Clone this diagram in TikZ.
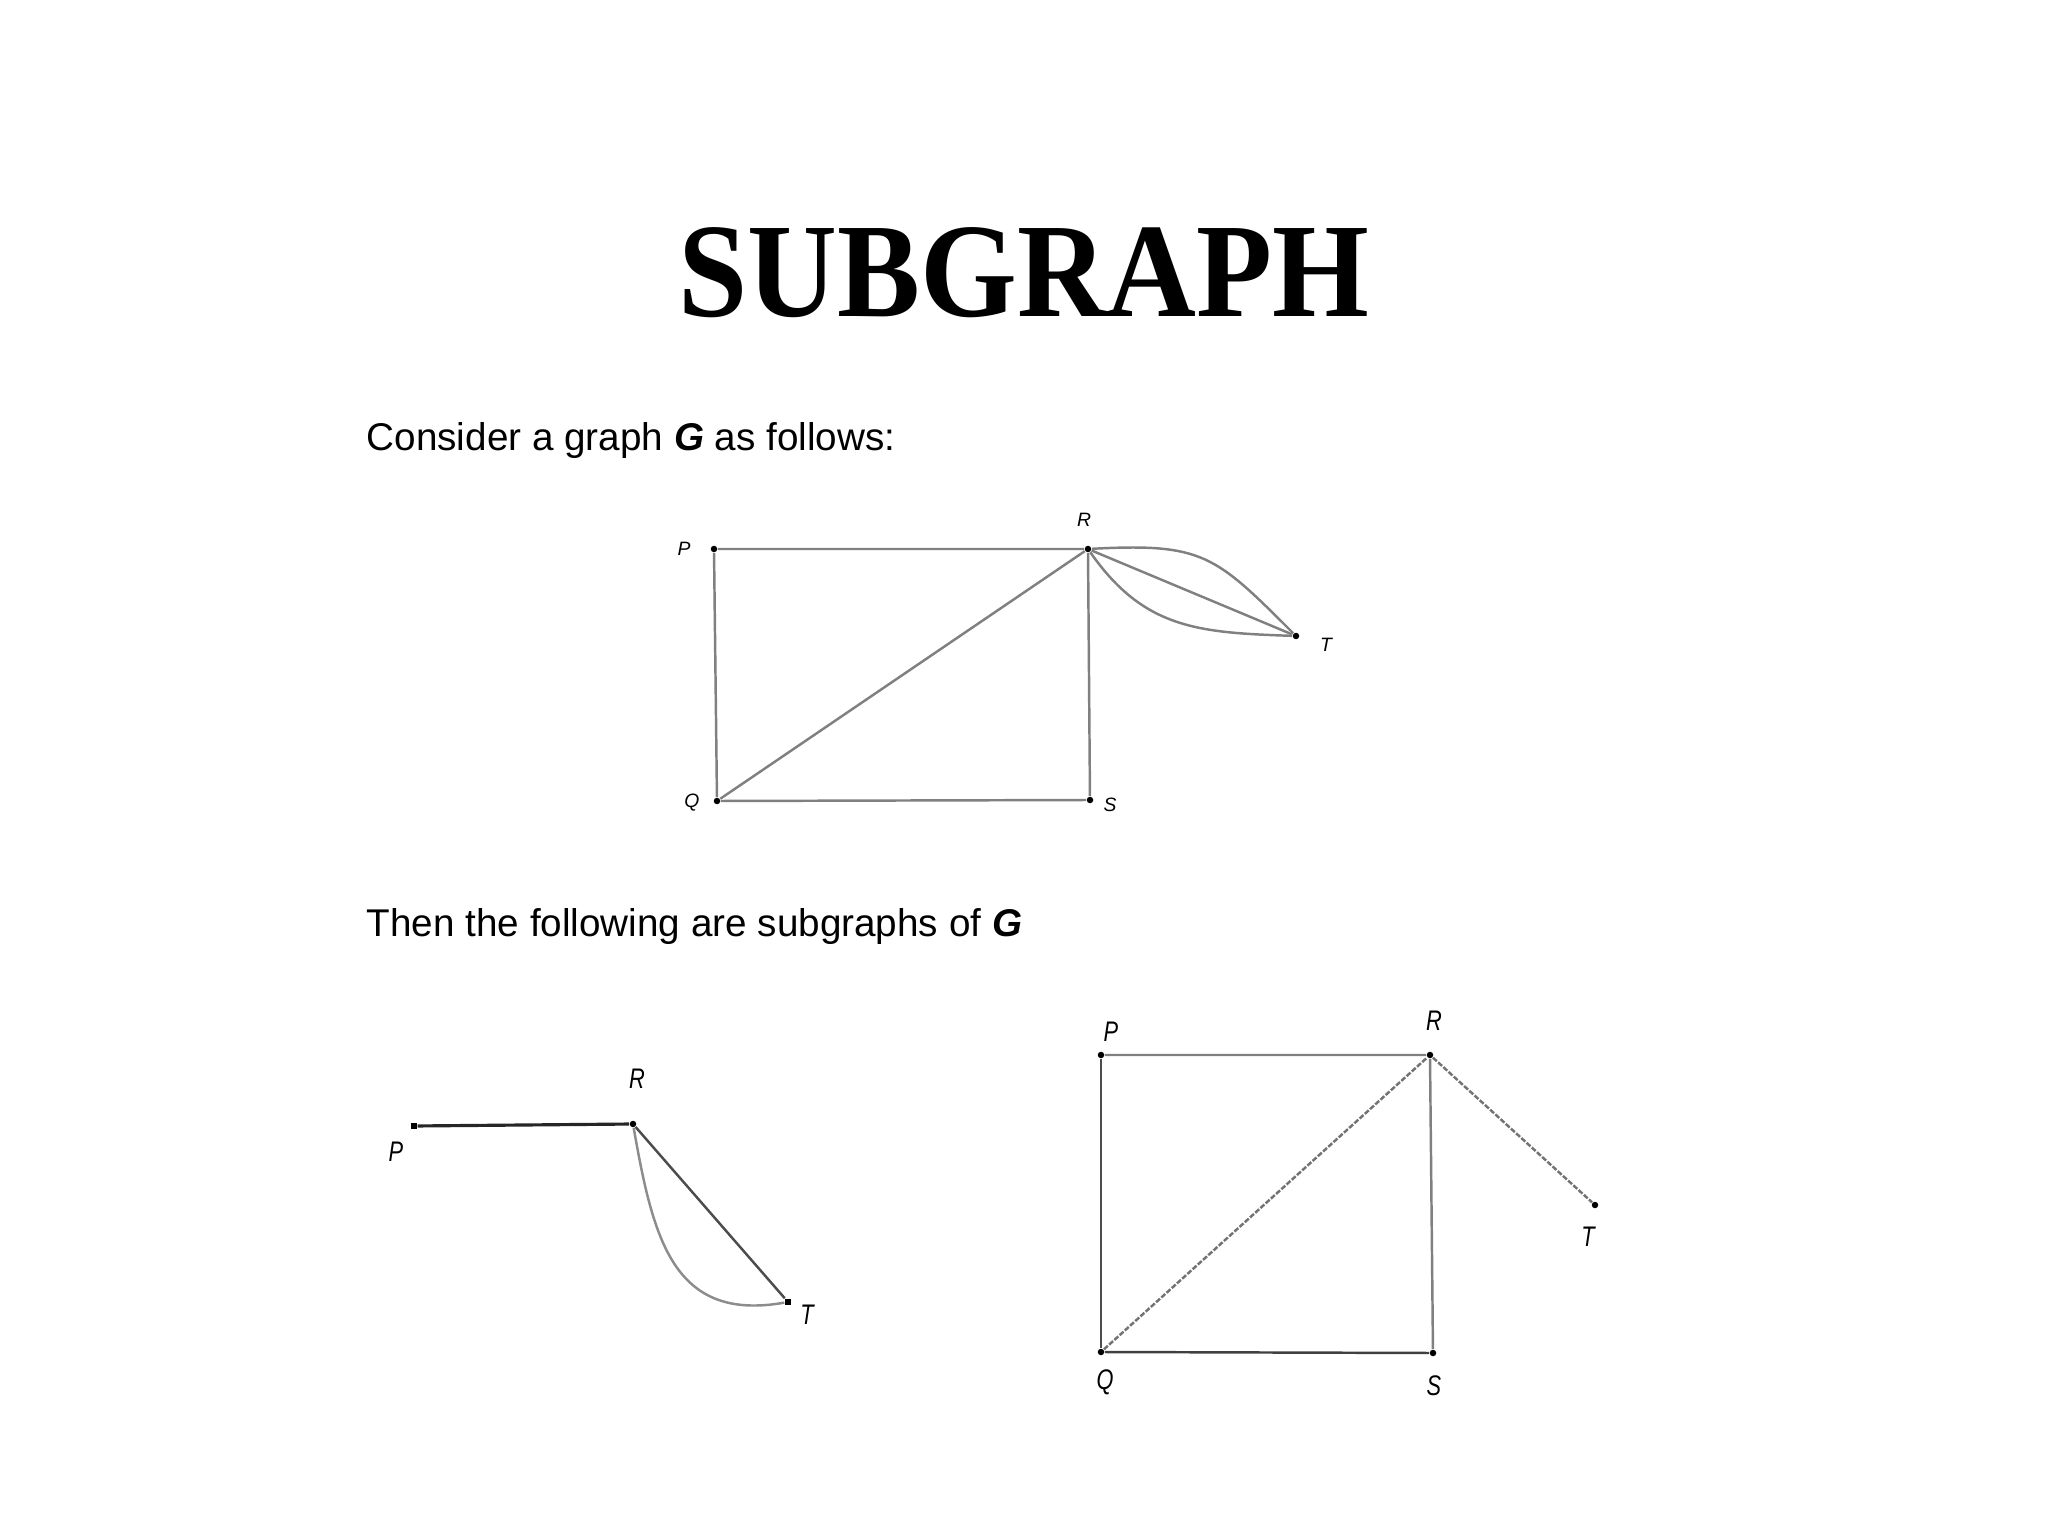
\documentclass[tikz,border=0pt]{standalone}
\usepackage{graphicx}
\usepackage{fontspec}
\setmainfont{Liberation Serif}
\setsansfont{Liberation Sans}

\newcommand{\tallA}[1]{\scalebox{1}[1.3]{#1}}

\begin{document}
\begin{tikzpicture}[
	vertex/.style  = {circle, fill=black, inner sep=0pt, minimum size=0.065cm},
	edge/.style    = {line width=0.7pt, draw=black!50},
	lbl/.style     = {font=\sffamily\itshape\fontsize{5.5}{6}\selectfont, inner sep=0pt},
	biglbl/.style  = {font=\sffamily\itshape\fontsize{6.2}{7}\selectfont, inner sep=0pt},
	caption/.style = {font=\sffamily\fontsize{11}{13}\selectfont, anchor=base west, inner sep=0pt},
	]

	\useasboundingbox (0,0) rectangle (20.48,-15.36);

	\node[font=\bfseries\fontsize{35.4}{40}\selectfont, anchor=base, inner sep=0pt] (title) at (10.24,-3.17) {\scalebox{1}[1.08]{SUBGRAPH}};
	\node[caption] (cap1) at (3.66,-4.51) {Consider a graph \textbf{\textit{G}} as follows:};
	\node[caption] (cap2) at (3.66,-9.36) {Then the following are subgraphs of \textbf{\textit{G}}};

	% graph G
	\node[vertex] (P) at (7.14,-5.49) {};
	\node[vertex] (R) at (10.88,-5.49) {};
	\node[vertex] (Q) at (7.17,-8.01) {};
	\node[vertex] (S) at (10.90,-8.00) {};
	\node[vertex] (T) at (12.96,-6.36) {};
	\node[lbl] (Plbl) at (6.84,-5.49) {P};
	\node[lbl] (Rlbl) at (10.84,-5.20) {R};
	\node[lbl] (Tlbl) at (13.26,-6.45) {T};
	\node[lbl] (Qlbl) at (6.92,-8.03) {Q};
	\node[lbl] (Slbl) at (11.10,-8.05) {S};

	\draw[edge] (P) -- (R) -- (S) -- (Q) -- (P);
	\draw[edge] (Q) -- (R) -- (T);
	\draw[edge] (R) to[out=3, in=135, looseness=1.3] (T); % upper loop
	\draw[edge] (R) to[out=-55, in=178, looseness=1.1] (T); % lower loop

	% first subgraph
	\node[vertex, rectangle, minimum size=0.06cm] (P1) at (4.14,-11.26) {};
	\node[vertex] (R1) at (6.33,-11.24) {};
	\node[vertex, rectangle, minimum size=0.06cm] (T1) at (7.88,-13.02) {};
	\node[biglbl] (P1lbl) at (3.96,-11.52) {\tallA{P}};
	\node[biglbl] (R1lbl) at (6.37,-10.79) {\tallA{R}};
	\node[biglbl] (T1lbl) at (8.07,-13.15) {\tallA{T}};

	\draw[line width=0.9pt, black!85] (P1) -- (R1);
	\draw[edge, black!70] (R1) -- (T1);
	\draw[edge, black!45] (R1) to[out=-80, in=190, looseness=1.25] (T1);

	% second subgraph
	\node[vertex] (P2) at (11.01,-10.55) {};
	\node[vertex] (R2) at (14.30,-10.55) {};
	\node[vertex] (Q2) at (11.01,-13.52) {};
	\node[vertex] (S2) at (14.33,-13.53) {};
	\node[vertex] (T2) at (15.95,-12.05) {};
	\node[biglbl] (P2lbl) at (11.11,-10.32) {\tallA{P}};
	\node[biglbl] (R2lbl) at (14.34,-10.21) {\tallA{R}};
	\node[biglbl] (T2lbl) at (15.88,-12.37) {\tallA{T}};
	\node[biglbl] (Q2lbl) at (11.05,-13.82) {\tallA{Q}};
	\node[biglbl] (S2lbl) at (14.34,-13.86) {\tallA{S}};

	\draw[edge] (P2) -- (R2) -- (S2);
	\draw[edge, black!75] (Q2) -- (S2);
	\draw[edge, black!70] (P2) -- (Q2);
	\draw[edge, black!55, dash pattern=on 1.5pt off 0.5pt] (Q2) -- (R2) -- (T2);

\end{tikzpicture}
\end{document}
